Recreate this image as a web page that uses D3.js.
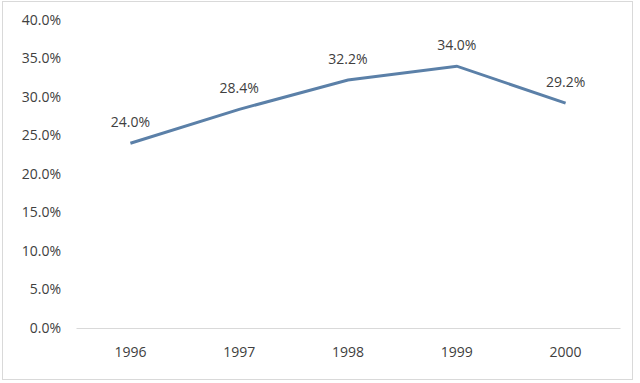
<!DOCTYPE html>
<html><head><meta charset="utf-8">
<script src="https://cdn.jsdelivr.net/npm/d3@7"></script>
<style>html,body{margin:0;padding:0;background:#fff;}</style>
</head><body>
<svg id="c" width="640" height="383"></svg>
<script>
const years = ["1996","1997","1998","1999","2000"];
const values = [24.0, 28.4, 32.2, 34.0, 29.2];
const yTicks = [0,5,10,15,20,25,30,35,40];

const svg = d3.select("#c");
const font = "'Open Sans', 'Noto Sans', sans-serif";
const fs = 14;
svg.append("rect").attr("x",2.5).attr("y",1.5).attr("width",630).attr("height",378)
  .attr("fill","#fff").attr("stroke","#d9d9d9").attr("stroke-width",1);

const x = d3.scaleBand().domain(years).range([76,620]);
const y = d3.scaleLinear().domain([0,40]).range([328,20]);

const yAxis = d3.axisLeft(y).tickValues(yTicks).tickSize(0).tickPadding(0)
  .tickFormat(d => d.toFixed(1) + "%");
const gy = svg.append("g").attr("transform","translate(61,0)").call(yAxis);
gy.select(".domain").remove();
gy.selectAll("text").attr("font-family",font).attr("font-size",fs).attr("fill","#404040");

const xAxis = d3.axisBottom(x).tickSize(0).tickPadding(19);
const gx = svg.append("g").attr("transform","translate(0,328)").call(xAxis);
gx.select(".domain").attr("stroke","#d9d9d9").attr("stroke-width",1.2);
gx.selectAll("text").attr("font-family",font).attr("font-size",fs).attr("fill","#404040");

const line = d3.line().x((d,i)=>x(years[i])+x.bandwidth()/2).y(d=>y(d));
svg.append("path").datum(values).attr("d",line).attr("fill","none")
  .attr("stroke","#5b80a8").attr("stroke-width",3).attr("stroke-linejoin","miter");

svg.selectAll(".lbl").data(values).enter().append("text")
  .attr("x",(d,i)=>x(years[i])+x.bandwidth()/2)
  .attr("y",d=>y(d)-16)
  .attr("text-anchor","middle")
  .attr("font-family",font).attr("font-size",fs).attr("fill","#404040")
  .text(d=>d.toFixed(1)+"%");
</script>
</body></html>
